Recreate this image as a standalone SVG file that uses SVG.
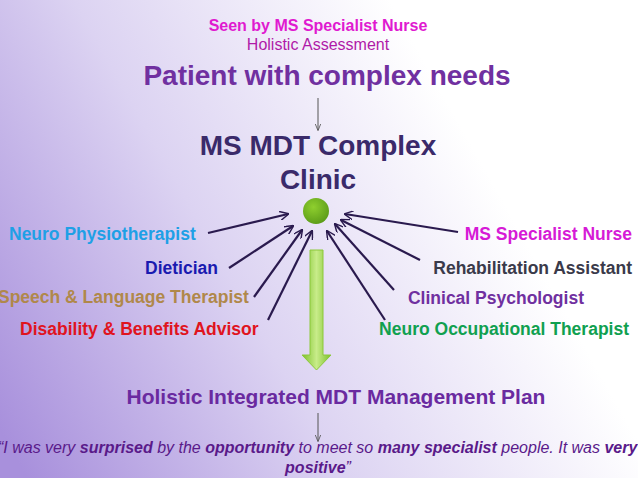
<svg xmlns="http://www.w3.org/2000/svg" width="638" height="478" viewBox="0 0 638 478">
<defs>
<linearGradient id="bg" x1="0" y1="430" x2="480" y2="160" gradientUnits="userSpaceOnUse">
<stop offset="0" stop-color="#a890dc"/><stop offset="0.5" stop-color="#dcd3f2"/><stop offset="1" stop-color="#ffffff"/>
</linearGradient>
<linearGradient id="gr" x1="0" y1="0" x2="1" y2="0">
<stop offset="0" stop-color="#7cc12a"/><stop offset="0.5" stop-color="#c8ec8a"/><stop offset="1" stop-color="#7cc12a"/>
</linearGradient>
<radialGradient id="ball" cx="0.4" cy="0.35" r="0.7"><stop offset="0" stop-color="#8fcf2e"/><stop offset="1" stop-color="#5a9a18"/></radialGradient>
<marker id="ah" viewBox="0 0 10 10" refX="9" refY="5" markerWidth="9" markerHeight="9" orient="auto" markerUnits="userSpaceOnUse"><path d="M0,0 L10,5 L0,10" fill="none" stroke="#2a1a4e" stroke-width="1.6"/></marker>
<marker id="sm" viewBox="0 0 10 10" refX="9" refY="5" markerWidth="7" markerHeight="7" orient="auto" markerUnits="userSpaceOnUse"><path d="M0,1 L10,5 L0,9" fill="none" stroke="#555" stroke-width="1.2"/></marker>
</defs>
<style>
text{font-family:"Liberation Sans",Arial,sans-serif;font-weight:bold}
.a{stroke:#2a1a4e;stroke-width:2.2;fill:none;marker-end:url(#ah)}
.s{stroke:#555;stroke-width:1;marker-end:url(#sm)}
</style>
<rect width="638" height="478" fill="url(#bg)"/>
<g id="header">
<text x="318" y="31" text-anchor="middle" font-size="16" fill="#e01ad0">Seen by MS Specialist Nurse</text>
<text x="318" y="50" text-anchor="middle" font-size="16" fill="#b01aa8" style="font-weight:normal">Holistic Assessment</text>
<text x="327" y="85" text-anchor="middle" font-size="28" fill="#7030a0">Patient with complex needs</text>
</g>
<g id="clinic">
<text x="318" y="155" text-anchor="middle" font-size="28" fill="#3a2a6a">MS MDT Complex</text>
<text x="318" y="189" text-anchor="middle" font-size="28" fill="#3a2a6a">Clinic</text>
<circle cx="316" cy="211" r="13" fill="url(#ball)"/>
</g>
<g id="labels" font-size="17.5">
<text x="9" y="240" fill="#1ea0e6">Neuro Physiotherapist</text>
<text x="218" y="274" text-anchor="end" fill="#1a1ab0">Dietician</text>
<text x="-2" y="303" fill="#b0884a">Speech &amp; Language Therapist</text>
<text x="20" y="335" fill="#e0141e">Disability &amp; Benefits Advisor</text>
<text x="632" y="240" text-anchor="end" fill="#d61ad6">MS Specialist Nurse</text>
<text x="632" y="274" text-anchor="end" fill="#3a3a4a">Rehabilitation Assistant</text>
<text x="584" y="304" text-anchor="end" fill="#7030a0">Clinical Psychologist</text>
<text x="629" y="335" text-anchor="end" fill="#10a050">Neuro Occupational Therapist</text>
</g>
<g id="connectors">
<line class="s" x1="318" y1="98" x2="318" y2="130"/>
<line class="a" x1="208" y1="233" x2="288" y2="214"/>
<line class="a" x1="229" y1="268" x2="293" y2="226"/>
<line class="a" x1="254" y1="297" x2="302" y2="230"/>
<line class="a" x1="268" y1="320" x2="312" y2="231"/>
<line class="a" x1="458" y1="232" x2="345" y2="214"/>
<line class="a" x1="420" y1="260" x2="341" y2="220"/>
<line class="a" x1="394" y1="290" x2="335" y2="224"/>
<line class="a" x1="385" y1="320" x2="327" y2="231"/>
<path d="M310,250 H323 V355 H331 L316.5,370 L302,355 H310 Z" fill="url(#gr)" stroke="#8cc83a" stroke-width="1"/>
<line class="s" x1="318" y1="413" x2="318" y2="441"/>
</g>
<g id="plan">
<text x="336" y="404" text-anchor="middle" font-size="21" fill="#6a2aa0">Holistic Integrated MDT Management Plan</text>
</g>
<g id="quote" font-size="16" fill="#5a1a8a">
<text x="-2" y="453" style="font-style:italic;font-weight:normal">“I was very <tspan font-weight="bold">surprised</tspan> by the <tspan font-weight="bold">opportunity</tspan> to meet so <tspan font-weight="bold">many specialist</tspan> people.  It was <tspan font-weight="bold">very</tspan></text>
<text x="318" y="473" text-anchor="middle" style="font-style:italic;font-weight:normal"><tspan font-weight="bold">positive</tspan>”</text>
</g>
</svg>
